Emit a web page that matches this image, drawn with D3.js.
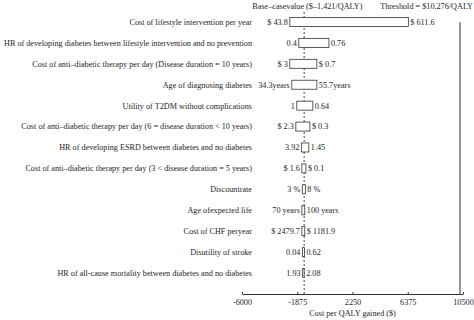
<!DOCTYPE html>
<html>
<head>
<meta charset="utf-8">
<script src="https://cdn.jsdelivr.net/npm/d3@7"></script>
<style>
  body { margin: 0; background: #fff; }
  svg { display: block; }
  text { font-family: "Liberation Serif", "DejaVu Serif", serif; fill: #262626; }
</style>
</head>
<body>
<svg id="chart" width="474" height="320"></svg>
<script>
/* Parameters, top to bottom. */
const categories = [
  "Cost of lifestyle intervention per year",
  "HR of developing diabetes between lifestyle intervention and no prevention",
  "Cost of anti–diabetic therapy per day (Disease duration = 10 years)",
  "Age of diagnosing diabetes",
  "Utility of T2DM without complications",
  "Cost of anti–diabetic therapy per day (6 = disease duration < 10 years)",
  "HR of developing ESRD between diabetes and no diabetes",
  "Cost of anti–diabetic therapy per day (3 < disease duration = 5 years)",
  "Discountrate",
  "Age ofexpected life",
  "Cost of CHF peryear",
  "Disutility of stroke",
  "HR of all-cause mortality between diabetes and no diabetes"
]

/* Bar ends, cost per QALY ($). */
const lowResult = [-2430, -1760, -2430, -2280, -1910, -1980, -1570, -1530, -1500, -1530, -1530, -1490, -1470]
const highResult = [6420, 490, -410, -410, -710, -930, -1010, -1230, -1270, -1310, -1310, -1340, -1360]

/* Parameter values printed at each end. */
const leftLabels = ["$ 43.8", "0.4", "$ 3", "34.3years", "1", "$ 2.3", "3.92", "$ 1.6", "3 %", "70 years", "$ 2479.7", "0.04", "1.93"]
const rightLabels = ["$ 611.6", "0.76", "$ 0.7", "55.7years", "0.64", "$ 0.3", "1.45", "$ 0.1", "8 %", "100 years", "$ 1181.9", "0.62", "2.08"]

const xTicks = [-6000, -1875, 2250, 6375, 10500]
const baseCase = -1421
const threshold = 10276

const svg = d3.select("#chart")
const fontSize = 8.2

/* Scales. */
const x = d3.scaleLinear().domain([-6000, 10500]).range([242, 463])
const y = d3.scaleBand().domain(d3.range(categories.length)).range([11.5, 283.5])
const axisY = 294
const barH = 9

/* Threshold line. */
svg.append("line")
  .attr("x1", x(threshold)).attr("x2", x(threshold))
  .attr("y1", 22).attr("y2", axisY)
  .attr("stroke", "#333").attr("stroke-width", 1)

/* Base case dashed line. */
svg.append("line")
  .attr("x1", x(baseCase) + 0.8).attr("x2", x(baseCase) + 0.8)
  .attr("y1", 12).attr("y2", axisY)
  .attr("stroke", "#333").attr("stroke-width", 0.9)
  .attr("stroke-dasharray", "2,2")

/* Bars. */
svg.selectAll(".bar")
  .data(categories)
  .join("rect")
  .attr("class", "bar")
  .attr("x", (d, i) => x(lowResult[i]))
  .attr("y", (d, i) => y(i) + y.bandwidth() / 2 - barH / 2)
  .attr("width", (d, i) => x(highResult[i]) - x(lowResult[i]))
  .attr("height", barH)
  .attr("fill", "#fff")
  .attr("stroke", "#333")
  .attr("stroke-width", 0.8)

/* Category labels. */
svg.selectAll(".cat")
  .data(categories)
  .join("text")
  .attr("class", "cat")
  .attr("x", 252)
  .attr("y", (d, i) => y(i) + y.bandwidth() / 2)
  .attr("dy", "0.35em")
  .attr("text-anchor", "end")
  .attr("font-size", fontSize)
  .text(d => d)
  .each(function () {
    /* Keep long labels inside the left edge. */
    if (this.getComputedTextLength() > 248) d3.select(this).attr("textLength", 248).attr("lengthAdjust", "spacingAndGlyphs")
  })

/* End labels. */
svg.selectAll(".lo")
  .data(leftLabels)
  .join("text")
  .attr("class", "lo")
  .attr("x", (d, i) => x(lowResult[i]) - 2)
  .attr("y", (d, i) => y(i) + y.bandwidth() / 2)
  .attr("dy", "0.35em")
  .attr("text-anchor", "end")
  .attr("font-size", fontSize)
  .text(d => d)

svg.selectAll(".hi")
  .data(rightLabels)
  .join("text")
  .attr("class", "hi")
  .attr("x", (d, i) => x(highResult[i]) + 2)
  .attr("y", (d, i) => y(i) + y.bandwidth() / 2)
  .attr("dy", "0.35em")
  .attr("text-anchor", "start")
  .attr("font-size", fontSize)
  .text(d => d)

/* Header texts. */
svg.append("text")
  .attr("x", x(baseCase) + 4).attr("y", 9)
  .attr("text-anchor", "middle")
  .attr("font-size", fontSize)
  .text("Base–casevalue ($–1,421/QALY)")

svg.append("text")
  .attr("x", 473).attr("y", 9)
  .attr("text-anchor", "end")
  .attr("font-size", fontSize)
  .text("Threshold = $10,276/QALY")

/* X axis. */
const xAxis = d3.axisBottom(x)
  .tickValues(xTicks)
  .tickSizeInner(-2)
  .tickSizeOuter(0)
  .tickPadding(5)
  .tickFormat(d => String(d))

const gx = svg.append("g")
  .attr("transform", `translate(0, ${axisY})`)
  .call(xAxis)
gx.select(".domain").attr("stroke", "#333")
gx.selectAll(".tick line").attr("stroke", "#333")
gx.selectAll(".tick text")
  .attr("font-size", fontSize)
  .attr("font-family", "Liberation Serif, DejaVu Serif, serif")
  .attr("fill", "#262626")

svg.append("text")
  .attr("x", (x.range()[0] + x.range()[1]) / 2).attr("y", 316)
  .attr("text-anchor", "middle")
  .attr("font-size", fontSize)
  .text("Cost per QALY gained ($)")
</script>
</body>
</html>
